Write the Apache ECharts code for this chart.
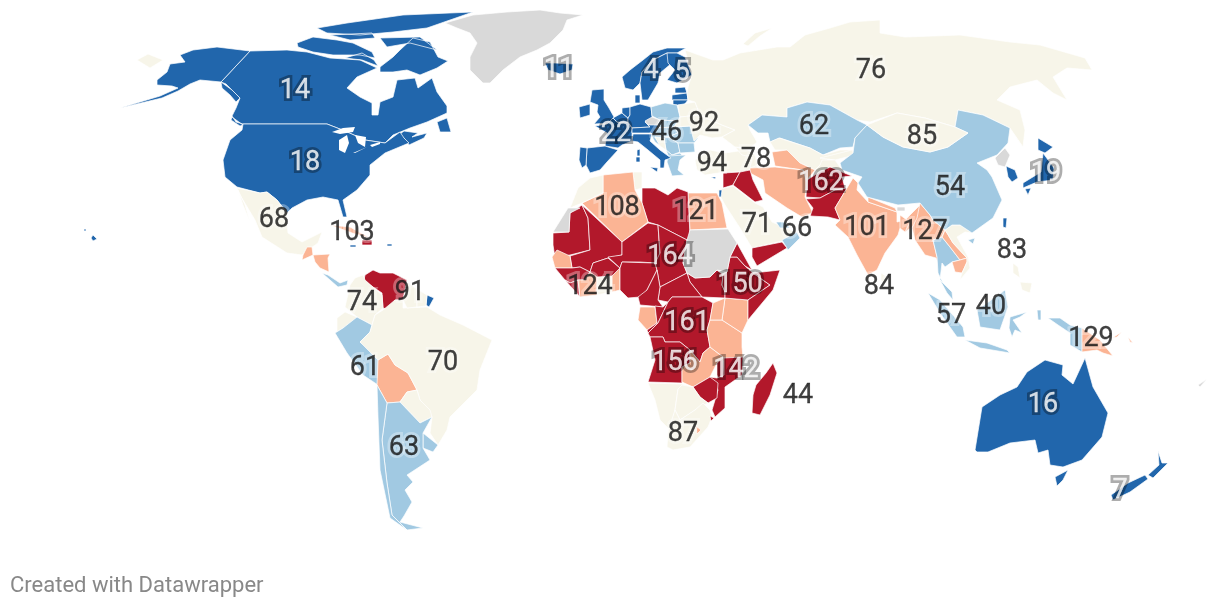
<!DOCTYPE html>
<html>
<head>
<meta charset="utf-8">
<style>html,body{margin:0;padding:0;background:#fff}#chart{width:1220px;height:608px}</style>
<script src="https://cdn.jsdelivr.net/npm/echarts@6/dist/echarts.min.js"></script>
</head>
<body>
<div id="chart"></div>
<script>
// ranks printed on the map
var labelNames = ['Canada','United States','Mexico','Cuba','Colombia','Guyana','Brazil','Peru','Argentina','Iceland','Sweden','Finland','France','Hungary','Ukraine','Turkey','Georgia','Russia','Kazakhstan','Mongolia','China','Afghanistan','India','Myanmar','Saudi Arabia','Oman','Algeria','Egypt','Chad','Ivory Coast','Ethiopia','DR Congo','Angola','Mozambique','Mauritius','South Africa','Sri Lanka','Philippines','Malaysia','Brunei','Papua New Guinea','Japan','Australia','New Zealand'];
var labelRanks = [14,18,68,103,74,91,70,61,63,11,4,5,22,46,92,94,78,76,62,85,54,162,101,127,71,66,108,121,164,124,150,161,156,142,44,87,84,83,57,40,129,19,16,7];

// ranks of the shaded countries without a printed number (estimated from their colour)
var otherNames = ['Norway','Denmark','United Kingdom','Ireland','Netherlands','Belgium','Germany','Spain','Portugal','Italy','Austria','Estonia','Latvia','Lithuania','Poland','Slovakia','Romania','Croatia','Serbia','Bulgaria','Albania','Greece','Bosnia','Belarus','Uzbekistan','Kyrgyzstan','Tajikistan','Turkmenistan','Iran','Syria','Iraq','Pakistan','Nepal','Bangladesh','Thailand','Laos','Cambodia','Vietnam','Indonesia','South Korea','Taiwan','Yemen','Israel','Libya','Tunisia','Morocco','Mauritania','Mali','Senegal','Guinea','Liberia','Ghana','Togo','Burkina Faso','Niger','Nigeria','South Sudan','Central African Republic','Cameroon','Gabon','Congo','Zambia','Tanzania','Kenya','Uganda','Eritrea','Somalia','Malawi','Zimbabwe','Namibia','Botswana','Lesotho','Eswatini','Madagascar','Guatemala','Honduras','Panama','Haiti','Jamaica','Puerto Rico','French Guiana','Venezuela','Ecuador','Bolivia','Suriname','Paraguay','Uruguay','Chile'];
var otherRanks = [2,3,12,10,8,15,9,25,20,28,13,30,31,27,48,44,52,47,50,55,53,42,75,80,88,82,86,105,120,160,158,155,110,125,60,115,118,90,58,24,23,152,29,148,72,79,138,145,112,140,136,93,116,149,159,157,163,165,144,126,147,130,119,111,113,154,151,134,137,81,73,128,141,146,117,109,64,139,26,32,33,135,77,106,89,69,56,65];

// colour classes, five equal rank bands
var rankBands = [1,34,67,100,133,166];
var bandColors = ['#2166ac','#a1c9e2','#f7f5e9','#fbb494','#b2182b'];
var noDataColor = '#d9d9d9';

// outlines, x y pairs in map units, one list per ring
var mapShapes = {
  'Canada':[[250,51,221,82,226,84,232,90,240,98,236,108,232,116,236,122,243,124,327,124,345,131,365,140,385,143,393,135,410,128,427,122,447,113,447,106,437,92,432,78,418,88,415,78,397,80,393,97,380,102,378,115,372,115,372,103,360,97,347,88,357,77,377,68,360,60,330,58,307,52,287,50],
    [396,137,404,131,418,133,412,137,427,133,424,138,409,145,404,138],[437,122,447,118,451,132,440,132],[232,117,243,125,240,126,231,120],
    [380,67,393,57,400,50,413,38,430,42,438,57,448,61,437,68,420,75,407,70,393,72,380,72],[297,43,313,37,337,40,353,43,372,52,375,58,360,55,333,55,313,52,298,47],[345,58,362,53,374,60,378,66,362,60],
    [317,28,347,23,403,15,473,12,427,28,393,32,360,35,327,33],[380,38,420,37,437,50,410,43,387,47],[330,35,372,33,375,38,350,40]],
  'United States':[[243,124,327,124,345,131,365,140,385,143,400,132,404,138,409,143,385,153,380,157,370,165,370,175,357,190,343,200,347,217,343,217,338,200,323,197,307,200,292,208,287,213,277,200,267,192,260,193,237,187,225,177,223,160,230,140,242,130],
    [250,51,217,47,193,50,180,55,185,62,170,64,167,72,157,80,157,85,172,86,178,88,160,96,120,108,162,98,178,91,190,84,200,80,221,82],[221,82,232,90,240,98,236,102,230,95,222,88],
    [93,235,97,239,93,241,91,238],[84,229,86,229,86,231,84,231]],
  'Iceland':[[545,63,555,63,573,64,572,70,560,74,548,70]],
  'Norway':[[622,77,630,70,643,60,653,52,667,48,686,48,677,53,667,53,653,60,642,72,640,83,633,90,625,88]],
  'Sweden':[[642,72,653,60,667,53,672,63,660,73,658,83,648,100,642,100,640,83]],
  'Finland':[[667,53,677,53,685,57,692,75,677,83,667,80,675,70,668,63]],
  'Estonia':[[675,88,685,87,687,93,675,93]],'Latvia':[[672,95,687,93,688,100,672,100]],'Lithuania':[[673,100,688,100,684,105,673,105]],
  'United Kingdom':[[592,90,604,89,604,100,609,108,614,117,612,123,594,124,600,117,597,112,598,105,590,102]],
  'Ireland':[[579,107,590,104,590,115,580,118]],
  'Denmark':[[635,95,640,95,640,103,635,103]],
  'France':[[595,126,607,124,613,118,617,122,625,123,628,122,632,128,632,133,632,141,622,145,618,148,605,146,607,133],[637,150,640,149,640,156,637,156]],
  'Belgium':[[613,118,622,113,628,118,628,122,625,123,617,122]],
  'Netherlands':[[622,108,630,107,630,115,628,118,622,113]],
  'Germany':[[630,107,640,104,651,107,652,116,652,120,645,122,650,127,632,128,628,122,628,118,630,115]],
  'Poland':[[651,107,665,103,677,105,680,117,678,121,660,120,652,116]],
  'Austria':[[632,128,650,127,645,122,652,120,657,125,660,128,656,128,656,135,650,133,632,133]],
  'Slovakia':[[660,120,678,121,674,127,660,128,657,125]],
  'Hungary':[[656,128,674,127,678,133,668,137,656,135]],
  'Romania':[[674,127,690,126,698,138,694,143,678,143,668,137,678,133]],
  'Croatia':[[650,133,656,135,668,137,664,140,655,137,662,147,655,142]],
  'Serbia':[[664,138,668,137,678,143,680,152,672,155,666,150]],
  'Bosnia':[[655,137,664,138,666,150,660,146]],
  'Bulgaria':[[678,143,694,143,695,152,680,153]],
  'Albania':[[666,150,672,155,680,153,683,156,670,160]],
  'Greece':[[668,156,686,155,680,160,678,170,684,175,672,176,667,162]],
  'Italy':[[633,134,652,134,650,141,660,150,671,158,665,160,664,168,660,168,660,160,648,150,638,142,632,141],[650,167,658,168,657,172],[636,157,640,157,640,162,636,162]],
  'Spain':[[587,148,605,146,618,150,607,162,600,170,590,173,586,165]],
  'Portugal':[[580,147,587,148,586,165,582,168,579,160]],
  'Belarus':[[678,105,695,102,700,115,680,117]],
  'Ukraine':[[680,117,700,115,722,125,735,130,722,137,712,138,700,135,694,141,690,126,674,127,678,121]],
  'Turkey':[[695,160,710,150,725,153,745,150,755,160,758,170,745,172,725,172,705,175,697,170]],
  'Georgia':[[735,147,748,150,755,155,758,165,750,168,752,157,742,155]],
  'Russia':[[692,75,685,50,713,60,723,60,740,53,777,47,790,47,805,35,830,28,850,22,880,20,880,33,905,37,960,35,1010,42,1040,45,1085,58,1092,70,1067,68,1053,77,1067,100,1053,93,1037,80,1010,87,997,100,1020,110,1025,130,1023,147,1010,128,983,115,958,110,955,127,925,118,897,113,870,122,857,120,830,105,807,102,787,108,787,117,762,115,748,125,750,130,757,142,750,148,735,147,722,137,735,130,722,125,700,115,695,102,688,100,687,93,688,87],
    [743,44,755,33,772,28,760,36,748,46],[137,60,148,54,163,60,150,68]],
  'Kazakhstan':[[748,125,762,115,787,117,787,108,807,102,830,105,857,120,867,125,855,138,853,147,840,148,823,155,810,148,780,138,770,142,768,133,758,133]],
  'Uzbekistan':[[779,138,810,148,823,155,840,150,853,150,850,155,830,158,820,165,815,170,800,163,787,150,775,150,770,142]],
  'Kyrgyzstan':[[820,158,852,150,855,155,835,160]],
  'Tajikistan':[[820,165,822,160,835,160,842,170,830,167,818,173,815,170]],
  'Turkmenistan':[[772,152,787,150,800,163,815,170,807,180,803,170,775,166]],
  'Iran':[[750,168,775,167,803,170,807,183,805,197,813,213,802,217,787,208,765,193,763,180,750,173]],
  'Syria':[[723,173,740,172,733,185,723,188]],
  'Iraq':[[740,172,750,170,753,180,763,200,755,202,733,185]],
  'Afghanistan':[[807,180,818,173,830,167,842,172,852,176,842,177,845,188,835,190,820,198,806,197]],
  'Pakistan':[[806,199,820,198,835,190,847,188,835,208,840,220,828,217,810,216,813,208]],
  'India':[[835,208,847,188,853,178,858,183,857,190,868,202,897,212,897,222,905,220,920,205,925,213,915,225,905,232,900,228,898,235,885,253,877,270,868,275,857,255,848,237,835,225,840,220]],
  'Sri Lanka':[[881,273,886,276,885,283,881,281]],
  'Nepal':[[868,197,895,208,897,212,868,202]],
  'Bangladesh':[[900,215,910,222,905,232,900,228]],
  'Myanmar':[[920,203,930,215,933,220,945,230,942,237,933,240,937,257,943,272,936,258,925,255,923,252,915,240,912,228,917,218]],
  'Thailand':[[933,240,942,237,950,247,960,260,952,262,945,267,942,263,940,280,943,283,938,273,937,257]],
  'Laos':[[945,230,947,233,953,243,967,258,960,260,950,247,942,237]],
  'Cambodia':[[952,262,960,260,967,258,967,262,962,273,955,272]],
  'Vietnam':[[952,225,960,225,972,233,965,232,957,237,968,257,970,268,960,280,962,273,967,262,967,258,953,243,947,233,945,230]],
  'Malaysia':[[940,280,952,292,953,300,947,293]],
  'Indonesia':[[928,293,940,300,963,327,965,337,957,337,940,313],[977,310,987,303,1005,290,1008,307,1000,330,980,327],[965,340,987,343,1007,350,1010,353,980,348],[1010,317,1027,312,1020,317,1013,320,1022,333,1015,330,1012,337,1009,328],[1048,318,1060,318,1070,325,1082,328,1082,352,1070,345,1070,333,1058,325],[1037,310,1041,310,1041,320,1038,320]],
  'Papua New Guinea':[[1082,328,1100,340,1113,356,1103,353,1097,350,1082,352],[1112,338,1122,332,1117,337],[1128,337,1133,343,1130,342]],
  'Philippines':[[1013,263,1018,267,1020,278,1013,273],[1020,282,1032,283,1030,293,1022,290]],
  'Taiwan':[[1003,218,1007,218,1006,228,1003,227]],
  'China':[[867,125,883,137,903,147,930,152,948,147,968,133,955,127,958,110,983,115,1010,128,1008,143,997,155,977,163,987,170,992,177,1002,200,993,218,972,233,960,225,952,225,945,230,933,220,930,215,920,203,898,205,867,197,858,183,862,177,842,170,840,163,853,153,855,138],[968,240,975,238,973,244]],
  'Mongolia':[[867,125,897,113,925,118,955,127,968,133,948,147,930,152,903,147,883,137]],
  'South Korea':[[1006,166,1015,170,1018,178,1012,182,1008,177]],
  'Japan':[[1038,138,1053,147,1045,153,1038,150],[1043,153,1054,168,1053,180,1037,182,1023,188,1023,183,1041,172],[1025,189,1031,188,1028,195]],
  'Saudi Arabia':[[717,190,733,186,755,203,763,207,772,222,795,232,782,241,752,248,740,228,725,205]],
  'Oman':[[797,232,800,238,788,250,782,240],[776,222,785,222,790,228,780,228]],
  'Yemen':[[752,248,782,242,787,248,757,266,752,257]],
  'Israel':[[719,190,722,190,721,197,719,197],[711,177,716,177,715,179]],
  'Egypt':[[688,193,717,193,722,203,727,228,690,230]],
  'Libya':[[642,188,655,188,668,195,677,188,688,192,690,237,687,240,658,225,648,222,642,203]],
  'Tunisia':[[633,172,642,172,642,188,635,190]],
  'Algeria':[[603,175,633,172,635,190,642,203,648,222,622,242,582,203,603,193]],
  'Morocco':[[590,178,603,175,603,193,582,203,570,208,578,188]],
  'Mauritania':[[553,233,569,232,570,213,582,205,588,218,590,250,570,255,555,258,553,245]],
  'Mali':[[588,218,582,205,622,242,622,255,608,258,593,263,590,272,580,267,572,268,570,256,590,250]],
  'Senegal':[[552,257,557,250,570,256,572,268,555,268]],
  'Guinea':[[555,268,572,268,580,267,590,272,585,280,578,280,570,283,565,280]],
  'Liberia':[[565,280,570,283,578,280,580,297]],
  'Ivory Coast':[[578,280,585,280,590,272,597,275,597,295,580,297]],
  'Ghana':[[597,277,612,276,612,292,597,295]],
  'Togo':[[612,276,620,268,620,290,612,292]],
  'Burkina Faso':[[590,272,593,263,608,258,620,268,612,276,597,277]],
  'Niger':[[608,257,622,255,622,242,648,223,658,225,660,255,655,263,640,262,622,262,620,268]],
  'Nigeria':[[620,268,622,262,655,263,657,270,647,290,640,297,628,298,620,290]],
  'Chad':[[658,225,687,240,683,263,687,273,660,287,657,270,655,263,660,253]],
  'South Sudan':[[687,273,695,278,710,277,717,270,723,275,722,285,725,292,725,298,702,297,690,282]],
  'Central African Republic':[[660,287,687,273,690,282,702,297,672,297,668,302,658,300]],
  'Cameroon':[[657,270,660,287,658,300,663,307,640,305,638,297,647,290]],
  'Gabon':[[640,307,655,307,657,323,647,330,638,320]],
  'Congo':[[655,306,663,307,668,302,658,323,648,333,647,330,657,323]],
  'DR Congo':[[672,297,702,297,713,303,710,320,707,330,710,347,703,353,700,362,690,350,680,342,665,342,663,337,650,337,648,333,658,323,668,302]],
  'Angola':[[650,337,663,337,665,342,680,342,690,350,690,363,682,367,682,383,648,382,655,360]],
  'Zambia':[[682,367,690,363,690,350,700,362,703,353,710,347,727,360,717,363,710,377,693,387,682,382]],
  'Tanzania':[[710,320,722,320,742,333,742,347,743,357,727,360,710,347,707,330]],
  'Kenya':[[725,298,748,300,748,320,742,333,722,320]],
  'Uganda':[[713,303,725,298,722,320,710,320]],
  'Ethiopia':[[723,275,727,272,730,257,737,257,745,266,753,273,770,285,748,300,725,298,725,292,722,285]],
  'Eritrea':[[730,257,737,243,752,270,745,266,737,257]],
  'Somalia':[[753,273,780,270,773,290,748,320,748,300,770,285]],
  'Malawi':[[717,363,723,358,724,375,720,382,717,375]],
  'Mozambique':[[724,358,743,357,742,375,725,387,725,408,715,417,712,410,718,390,710,377,717,378,724,375]],
  'Zimbabwe':[[693,387,710,377,718,383,717,398,708,403,700,397]],
  'Namibia':[[648,383,682,384,693,387,678,389,675,410,670,430,660,420,655,400]],
  'Botswana':[[682,385,693,387,700,397,708,403,695,410,680,420,675,410,678,389]],
  'South Africa':[[675,410,680,420,695,410,703,403,710,410,712,417,708,427,690,447,673,450,667,447,668,432]],
  'Lesotho':[[696,426,701,430,697,434]],
  'Eswatini':[[710,416,714,418,711,421]],
  'Madagascar':[[773,363,777,373,770,395,760,415,752,413,753,395,756,385,766,373]],
  'Mexico':[[237,188,260,193,267,192,277,200,287,213,287,223,288,233,302,242,322,232,318,243,308,250,302,255,287,253,262,237,255,220,240,195],[238,190,245,205,250,222,243,205]],
  'Guatemala':[[307,247,312,247,313,255,302,260,303,255]],
  'Honduras':[[313,255,330,254,328,258,329,272,320,268,315,262]],
  'Panama':[[322,273,328,275,340,283,348,280,347,285,338,287,330,280]],
  'Cuba':[[330,225,350,227,370,238,355,234]],
  'Haiti':[[362,240,372,240,372,245,362,245]],
  'Jamaica':[[350,245,356,245,356,247,350,247]],
  'Puerto Rico':[[387,244,392,244,392,246,387,246]],
  'French Guiana':[[427,295,434,298,429,307,426,305]],
  'Venezuela':[[365,275,373,270,380,273,393,273,407,280,403,300,395,300,390,310,383,308,382,293,370,285,364,280]],
  'Colombia':[[363,275,365,280,382,295,383,308,375,315,372,325,357,317,345,307,350,285,355,278]],
  'Ecuador':[[345,312,357,317,353,323,343,328,337,332,337,318]],
  'Peru':[[357,317,372,325,370,332,360,342,378,355,378,385,363,375,347,353,335,333,343,328]],
  'Bolivia':[[378,360,388,354,395,365,408,373,417,390,407,392,400,402,387,403,377,385]],
  'Brazil':[[403,308,427,307,440,315,463,325,492,340,480,370,477,390,450,417,447,430,438,445,430,433,432,417,420,400,417,390,408,373,395,365,388,354,378,360,360,342,370,332,375,315,383,310,395,300,403,300]],
  'Guyana':[[407,282,417,289,417,307,407,308,403,300]],
  'Suriname':[[417,289,427,295,426,306,417,307]],
  'Paraguay':[[407,392,417,390,420,400,430,410,432,417,420,423,400,402]],
  'Uruguay':[[423,433,438,445,433,452,423,448]],
  'Argentina':[[387,403,400,402,420,423,432,417,423,433,423,448,430,460,407,475,413,482,405,490,412,502,404,516,400,522,423,528,407,530,392,515,387,483,382,440]],
  'Chile':[[377,385,387,403,382,440,387,483,392,515,407,530,390,518,380,470,378,417]],
  'Australia':[[975,450,982,407,1000,395,1017,387,1027,372,1045,360,1063,365,1062,375,1073,384,1085,358,1093,387,1108,413,1102,437,1082,460,1063,467,1050,465,1048,450,1038,453,1035,440,1010,443,988,452,977,452],[1055,477,1068,470,1063,480,1057,486]],
  'New Zealand':[[1158,451,1162,463,1168,463,1153,478,1148,475,1159,465],[1145,475,1148,479,1130,492,1113,500,1111,495,1128,483]],
  // no data, stay grey
  'Greenland':[[445,23,473,15,507,12,540,10,560,13,583,15,567,20,563,30,550,43,537,50,520,57,503,70,490,83,483,83,470,70,470,57,477,43,470,33,457,28]],
  'Czechia':[[645,121,652,117,660,120,657,125,648,125]],
  'Western Sahara':[[553,232,568,208,580,208,570,213,569,232]],
  'Sudan':[[690,230,728,229,737,243,730,257,727,272,717,270,710,277,695,278,687,273,683,263,687,240]],
  'Bhutan':[[897,207,905,207,905,211,897,211]],
  'North Korea':[[995,158,1005,148,1010,155,1005,167,998,165]],
  'New Caledonia':[[1198,385,1207,379,1200,387]],
  // great lakes painted white over the land
  'lakes':[[332,132,343,128,355,127,353,132,340,134],[339,140,347,135,349,143,345,153,339,150],[355,135,366,137,365,147,358,143],[353,153,367,147,368,148,355,153],[370,145,380,142,380,144,372,147]]
};

// where each printed number sits, same order as labelNames
var labelAnchors = [[295,88],[305,160],[274,217],[352,230],[362,300],[410,290],[443,360],[365,365],[404,445],[559,67],[651,68],[682,70],[616,131],[667,130],[704,121],[712,161],[756,157],[871,68],[814,124],[922,134],[950,185],[821,180],[867,225],[925,229],[757,222],[797,226],[617,205],[696,209],[670,254],[590,284],[740,282],[687,320],[675,360],[736,367],[798,393],[683,431],[879,284],[1012,248],[951,313],[991,304],[1091,336],[1046,171],[1043,402],[1120,488]];

var features = Object.keys(mapShapes).map(function (name) {
  return {
    type: 'Feature',
    properties: { name: name },
    geometry: {
      type: 'MultiPolygon',
      coordinates: mapShapes[name].map(function (flat) {
        var ring = [];
        for (var i = 0; i < flat.length; i += 2) ring.push([flat[i], flat[i + 1]]);
        ring.push(ring[0]);
        return [ring];
      })
    }
  };
});
echarts.registerMap('rankmap', { type: 'FeatureCollection', features: features });

var mapData = [];
labelNames.forEach(function (n, i) { if (mapShapes[n]) mapData.push({ name: n, value: labelRanks[i] }); });
otherNames.forEach(function (n, i) { mapData.push({ name: n, value: otherRanks[i] }); });

var pieces = bandColors.map(function (c, i) {
  return { gte: rankBands[i], lt: rankBands[i + 1], color: c };
});

// numbers are two layers on their own canvases: the see-through halo, then the digit over it
function labelSeries(withHalo) {
  return {
    type: 'scatter',
    coordinateSystem: 'geo',
    silent: true,
    symbolSize: 0,
    zlevel: withHalo ? 1 : 2,
    data: labelNames.map(function (n, i) {
      var r = labelRanks[i];
      var onDark = r <= 33 || r >= 133;
      var ink = onDark ? '#fff' : '#111';
      return {
        name: n,
        value: [labelAnchors[i][0], labelAnchors[i][1], r],
        label: {
          show: true,
          position: 'inside',
          offset: [0, 3],
          formatter: String(r),
          fontFamily: 'Roboto',
          fontSize: 27,
          color: withHalo ? 'rgba(0,0,0,0)' : ink,
          textBorderColor: withHalo ? (onDark ? 'rgba(0,0,0,0.4)' : 'rgba(255,255,255,0.4)') : ink,
          textBorderWidth: withHalo ? 6 : 0.3
        }
      };
    })
  };
}

var myChart = echarts.init(document.getElementById('chart'), null, { renderer: 'canvas' });
myChart.setOption({
  animation: false,
  backgroundColor: '#fff',
  title: {
    text: 'Created with Datawrapper',
    left: 5, top: 570,
    textStyle: { color: '#888', fontFamily: 'Roboto', fontSize: 22, fontWeight: 'normal' }
  },
  visualMap: { show: false, type: 'piecewise', seriesIndex: 0, pieces: pieces },
  geo: {
    map: 'rankmap',
    silent: true,
    roam: false,
    projection: {
      project: function (p) { return [p[0], p[1]]; },
      unproject: function (p) { return [p[0], p[1]]; }
    },
    boundingCoords: [[0, 0], [1220, 608]],
    left: 0, top: 0, width: 1220, height: 608,
    label: { show: false },
    itemStyle: { areaColor: noDataColor, borderColor: '#fff', borderWidth: 0.7 },
    emphasis: { disabled: true },
    regions: [{ name: 'lakes', itemStyle: { areaColor: '#fff', borderWidth: 0 } }]
  },
  series: [{
    type: 'map',
    geoIndex: 0,
    silent: true,
    data: mapData
  }, labelSeries(true), labelSeries(false)]
});
</script>
</body>
</html>
